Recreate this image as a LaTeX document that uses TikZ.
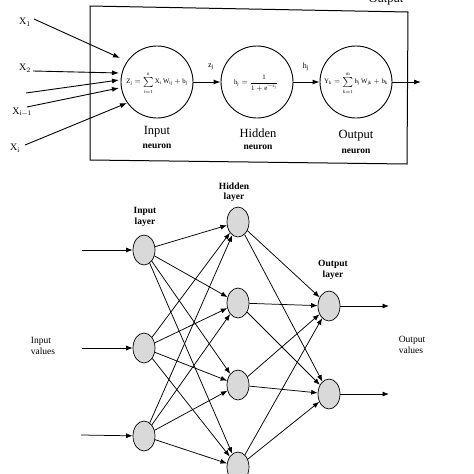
\documentclass[tikz,border=0pt]{standalone}
\usepackage{fontspec}
\setmainfont{Liberation Serif}
\usetikzlibrary{arrows.meta,shapes.geometric}
\begin{document}
\begin{tikzpicture}[x=1pt,y=-1pt,
  conn/.style={-{Latex[length=7pt,width=5pt]}, line width=0.9pt},
  net/.style={-{Latex[length=6.5pt,width=5pt]}, line width=0.75pt},
  neuron/.style={circle,draw,line width=0.9pt,minimum size=72pt,inner sep=0pt},
  unit/.style={ellipse,draw,fill=gray!30,line width=0.7pt,minimum width=22pt,minimum height=30pt,inner sep=0pt},
  formula/.style={font=\fontsize{6.8}{8}\selectfont,inner sep=0pt},
  xlab/.style={font=\fontsize{10}{11}\selectfont,inner sep=0pt},
  caplab/.style={font=\fontsize{12.5}{14}\selectfont,inner sep=0pt},
  caplabb/.style={font=\bfseries\fontsize{9.5}{11}\selectfont,inner sep=0pt},
  lay/.style={font=\bfseries\fontsize{9.5}{10.5}\selectfont,align=center,inner sep=0pt},
  val/.style={font=\fontsize{9.5}{11.5}\selectfont,align=left,inner sep=0pt}
]
\useasboundingbox (0,0) rectangle (474,474);
\fill[white] (0,0) rectangle (474,474);

% ---------- top part ----------
\draw[line width=1pt] (90,6) -- (408,12) -- (407,164) -- (90,160) -- cycle;
\node[caplab,anchor=base] (toplab) at (386,2.5) {Output};

\node[neuron] (in) at (157,82) {};
\node[neuron] (hid) at (257,82) {};
\node[neuron] (out) at (356,82) {};

\node[formula] (fz) at (157,83) {$\mathrm{Z_j=\sum\limits_{i=1}^{n}X_i\,W_{ij}+b_j}$};
\node[formula] (fh) at (256,83) {$\displaystyle\mathrm{h_j=\frac{1}{1+e^{-z_j}}}$};
\node[formula] (fy) at (356,83) {$\mathrm{Y_k=\sum\limits_{k=1}^{m}h_j\,W_{jk}+b_k}$};

\node[xlab] (x1) at (25,22) {X$_1$};
\node[xlab] (x2) at (25,68) {X$_2$};
\node[xlab] (x3) at (22,112) {X$_{\mathrm{i-1}}$};
\node[xlab] (x4) at (15,148) {X$_\mathrm{i}$};

\coordinate (s1) at (34,19);  \coordinate (e1) at (120,58);
\coordinate (s2) at (33,71);  \coordinate (e2) at (119,73);
\coordinate (s3) at (26,93);  \coordinate (e3) at (119,80);
\coordinate (s4) at (27,107); \coordinate (e4) at (119,88);
\coordinate (s5) at (25,145); \coordinate (e5) at (127,103);
\foreach \i in {1,...,5} \draw[conn] (s\i) -- (e\i);

\draw[conn] (in.east) -- (hid.west);
\draw[conn] (hid.east) -- (out.west);
\coordinate (oend) at (421,82);
\draw[conn] (out.east) -- (oend);

\node[xlab,font=\fontsize{8}{9}\selectfont] (zl) at (211,67) {z$_\mathrm{j}$};
\node[xlab,font=\fontsize{8}{9}\selectfont] (hl) at (306,67) {h$_\mathrm{j}$};

\node[caplab] (c1) at (157,132) {Input};
\node[caplabb] (c1b) at (157,146) {neuron};
\node[caplab] (c2) at (258,133) {Hidden};
\node[caplabb] (c2b) at (258,147) {neuron};
\node[caplab] (c3) at (356,136) {Output};
\node[caplabb] (c3b) at (356,151) {neuron};

% ---------- bottom part ----------
\node[unit] (i1) at (144,250) {};
\node[unit] (i2) at (144,348) {};
\node[unit] (i3) at (144,436) {};
\node[unit] (h1) at (238,222) {};
\node[unit] (h2) at (238,303) {};
\node[unit] (h3) at (238,385) {};
\node[unit] (h4) at (238,467) {};
\node[unit] (o1) at (329,306) {};
\node[unit] (o2) at (329,394) {};

\foreach \a in {i1,i2,i3} \foreach \b in {h1,h2,h3,h4} \draw[net] (\a) -- (\b);
\foreach \a in {h1,h2,h3,h4} \foreach \b in {o1,o2} \draw[net] (\a) -- (\b);

\coordinate (a1) at (82,250);
\coordinate (a2) at (82,348);
\coordinate (a3) at (81,435);
\draw[net] (a1) -- (i1);
\draw[net] (a2) -- (i2);
\draw[net] (a3) -- (i3);
\coordinate (b1) at (389,306);
\coordinate (b2) at (389,394);
\draw[net] (o1) -- (b1);
\draw[net] (o2) -- (b2);

\node[lay] (li) at (145,217) {Input\\layer};
\node[lay] (lh) at (234,192) {Hidden\\layer};
\node[lay] (lo) at (333,270) {Output\\layer};
\node[val] (vi) at (43,346) {Input\\values};
\node[val] (vo) at (412,345) {Output\\values};
\end{tikzpicture}
\end{document}
